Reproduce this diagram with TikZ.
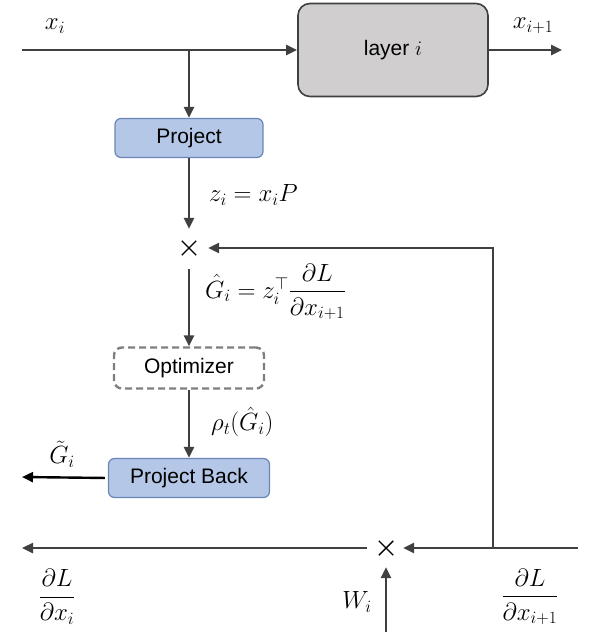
\documentclass[tikz,border=0pt]{standalone}
\usepackage{fontspec}
\setmainfont{Liberation Sans}
\usepackage{amsmath}
\usetikzlibrary{arrows.meta, calc, positioning, shapes.misc}
\definecolor{pfeilgrau}{HTML}{404040}
\definecolor{schichtgrau}{HTML}{D0CECE}
\definecolor{projblau}{HTML}{B4C7E7}
\definecolor{randblau}{HTML}{6A86B8}
\definecolor{optgrau}{HTML}{7F7F7F}

\begin{document}
\begin{tikzpicture}[x=1pt, y=-1pt]

%%% Definitionen der Styles
\tikzset{
  fluss/.style = {draw=pfeilgrau, line width=2.4pt, -{Triangle[length=11pt, width=10pt]}},
  schicht/.style = {draw=pfeilgrau, line width=1.6pt, fill=schichtgrau, rounded corners=12pt,
    minimum width=190pt, minimum height=93pt, font=\fontsize{21}{25}\selectfont},
  proj/.style = {draw=randblau, line width=1.2pt, fill=projblau, rounded corners=6pt,
    minimum height=39pt, font=\fontsize{21}{25}\selectfont},
  optbox/.style = {draw=optgrau, line width=2.4pt, dash pattern=on 7pt off 4pt, rounded corners=8pt,
    minimum width=150pt, minimum height=41pt, font=\fontsize{21}{25}\selectfont},
  mal/.style = {draw=black, cross out, line width=1.4pt, minimum size=13pt, inner sep=0pt},
  beschr/.style = {font=\fontsize{23}{27}\selectfont, inner sep=1pt}
}

%%% Definition der BoundingBox
\useasboundingbox (0,0) rectangle (596,637);

%%% Boxen und Knoten
\node[schicht] (layer) at (393,50) {layer $i$};
\node[proj, minimum width=148pt] (project) at (189,138) {Project};
\node[mal] (malA) at (189,248) {};
\node[optbox] (optimizer) at (189,368) {Optimizer};
\node[proj, minimum width=161pt] (back) at (189,478) {Project Back};
\node[mal] (malB) at (386,548) {};

%%% freie Enden
\coordinate (ein) at (22,50);
\coordinate (aus) at (562,50);
\coordinate (rechtsoben) at (493,248);
\coordinate (rechtsunten) at (493,548);
\coordinate (gradein) at (578,548);
\coordinate (gradaus) at (22,548);
\coordinate (gtilde) at (22,477);
\coordinate (wein) at (386,632);

%%% Vorwaertspfad
\draw[fluss] (ein) -- (layer.west);
\draw[fluss] (layer.east) -- (aus);
\draw[fluss] (project.north |- ein) -- (project.north);
\draw[fluss, shorten >=12pt] (project.south) -- (malA);
\draw[fluss, shorten <=14pt] (malA) -- (optimizer.north);
\draw[fluss] (optimizer.south) -- (back.north);
\draw[fluss, draw=black, shorten <=3pt] (back.west) -- (gtilde);

%%% Rueckwaertspfad
\draw[fluss, shorten >=12pt] (rechtsunten) -- (rechtsoben) -- (malA);
\draw[fluss, shorten >=10pt] (gradein) -- (malB);
\draw[fluss, shorten <=12pt] (malB) -- (gradaus);
\draw[fluss, shorten >=12pt] (wein) -- (malB);

%%% Beschriftungen
\node[beschr] (lxi) at (55,26) {$x_i$};
\node[beschr] (lxaus) at (533,26) {$x_{i+1}$};
\node[beschr, anchor=west] (lz) at (208,195) {$z_i = x_iP$};
\node[beschr, anchor=west] (lghat) at (204,292) {$\hat{G}_i = z_i^{\top}\dfrac{\partial L}{\partial x_{i+1}}$};
\node[beschr, anchor=west] (lrho) at (210,422) {$\rho_t(\hat{G}_i)$};
\node[beschr] (lgtilde) at (62,454) {$\tilde{G}_i$};
\node[beschr] (ldxi) at (57,597) {$\dfrac{\partial L}{\partial x_i}$};
\node[beschr] (ldxaus) at (530,597) {$\dfrac{\partial L}{\partial x_{i+1}}$};
\node[beschr] (lw) at (357,602) {$W_i$};

\end{tikzpicture}
\end{document}
